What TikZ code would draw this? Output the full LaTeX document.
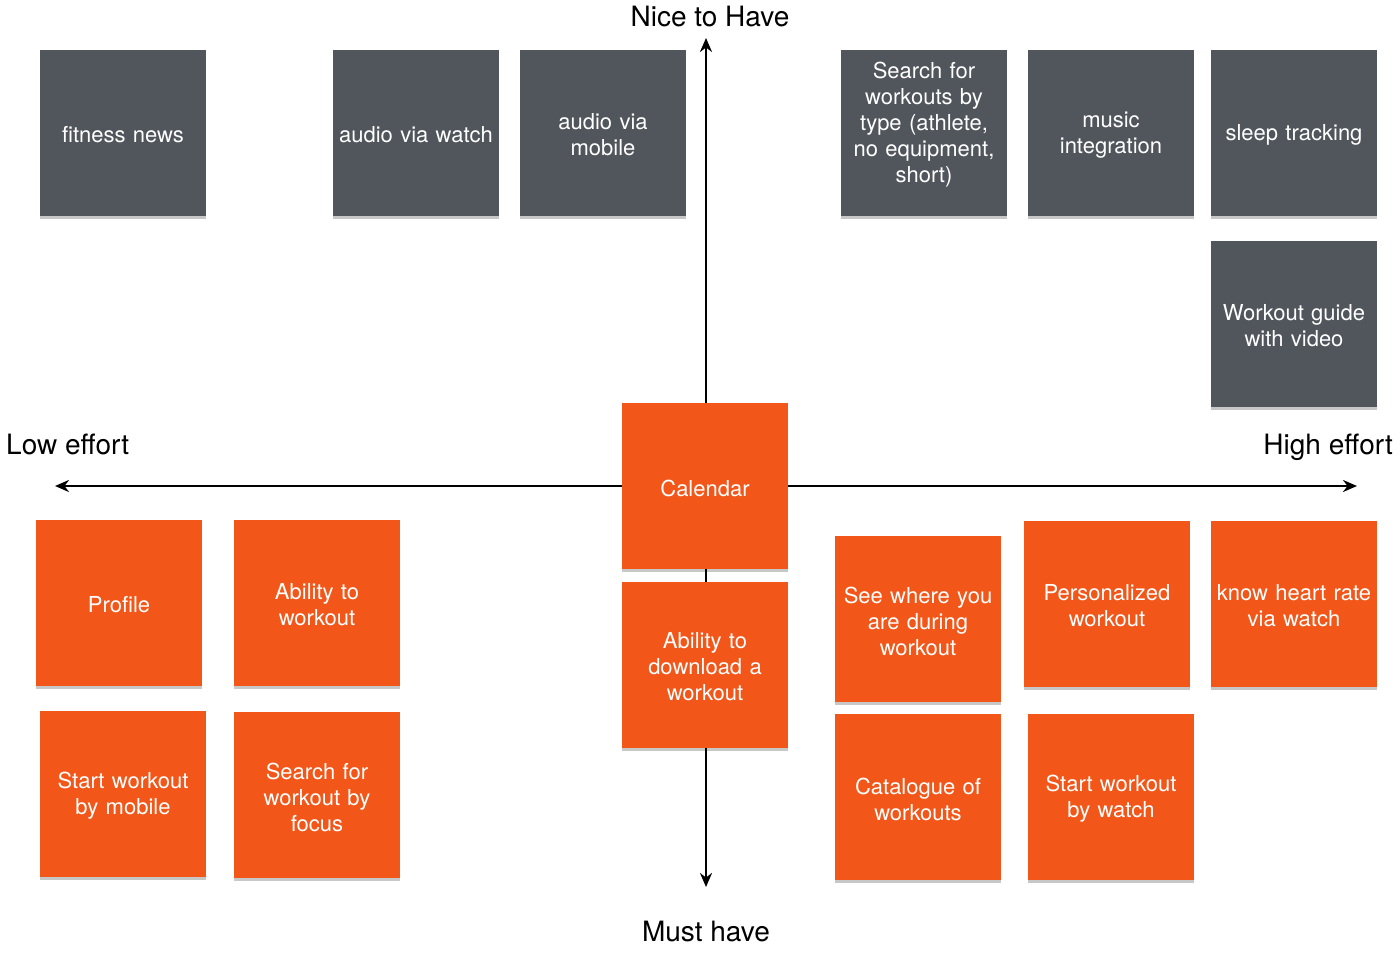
\documentclass[tikz,border=0pt]{standalone}
\usepackage{fontspec}
\setmainfont{TeX Gyre Heros}
\usetikzlibrary{arrows.meta,shadows}
\definecolor{graybox}{HTML}{51555C}
\definecolor{orangebox}{HTML}{F25619}
% \mycard{style}{name}{position}{text shift}{text}
\newcommand\mycard[5]{%
  \node[#1] (#2) at #3 {};
  \node[boxtext,yshift=#4] (#2-t) at (#2.center) {#5};}
\begin{document}
\begin{tikzpicture}[x=1pt,y=-1pt,
  box/.style={minimum width=166pt,minimum height=166pt,inner sep=0pt,
    drop shadow={shadow xshift=0pt,shadow yshift=-2.5pt,opacity=0.22,fill=black}},
  gbox/.style={box,fill=graybox},
  obox/.style={box,fill=orangebox},
  boxtext/.style={inner sep=0pt,text width=162pt,align=center,font=\fontsize{22}{26}\selectfont,text=white},
  axis/.style={line width=2.6pt,{Stealth[length=14pt,width=12pt]}-{Stealth[length=14pt,width=12pt]}},
  lab/.style={font=\fontsize{28}{32}\selectfont,text=black,inner sep=0pt}]
\useasboundingbox[fill=white] (0,0) rectangle (1400,955);
\coordinate (top) at (706,38);
\coordinate (bottom) at (706,887);
\coordinate (left) at (55,486);
\coordinate (right) at (1357,486);
\draw[axis] (bottom) -- (top);
\draw[axis] (left) -- (right);
\node[lab,anchor=base] (nice) at (710,27) {Nice to Have};
\node[lab,anchor=base] (must) at (706,941) {Must have};
\node[lab,anchor=base west] (low) at (6,454) {Low effort};
\node[lab,anchor=base east] (high) at (1393,454) {High effort};
% gray boxes
\mycard{gbox}{fitness}{(123,133)}{-2pt}{fitness news}
\mycard{gbox}{audiowatch}{(416,133)}{-2pt}{audio via watch}
\mycard{gbox}{audiomobile}{(603,133)}{-2pt}{audio via\\mobile}
\mycard{gbox}{searchtype}{(924,133)}{8pt}{Search for\\workouts by\\type (athlete,\\no equipment,\\short)}
\mycard{gbox}{music}{(1111,133)}{-2pt}{music\\integration}
\mycard{gbox}{sleep}{(1294,133)}{-2pt}{sleep tracking}
\mycard{gbox}{guide}{(1294,324)}{-2pt}{Workout guide\\with video}
% orange boxes
\mycard{obox}{calendar}{(705,486)}{-2pt}{Calendar}
\mycard{obox}{download}{(705,665)}{-2pt}{Ability to\\download a\\workout}
\mycard{obox}{profile}{(119,603)}{-2pt}{Profile}
\mycard{obox}{ability}{(317,603)}{-2pt}{Ability to\\workout}
\mycard{obox}{startmobile}{(123,794)}{-2pt}{Start workout\\by mobile}
\mycard{obox}{searchfocus}{(317,795)}{-2pt}{Search for\\workout by\\focus}
\mycard{obox}{seewhere}{(918,619)}{-2pt}{See where you\\are during\\workout}
\mycard{obox}{personal}{(1107,604)}{-2pt}{Personalized\\workout}
\mycard{obox}{heart}{(1294,604)}{-2pt}{know heart rate\\via watch}
\mycard{obox}{catalogue}{(918,797)}{-2pt}{Catalogue of\\workouts}
\mycard{obox}{startwatch}{(1111,797)}{-2pt}{Start workout\\by watch}
\end{tikzpicture}
\end{document}
